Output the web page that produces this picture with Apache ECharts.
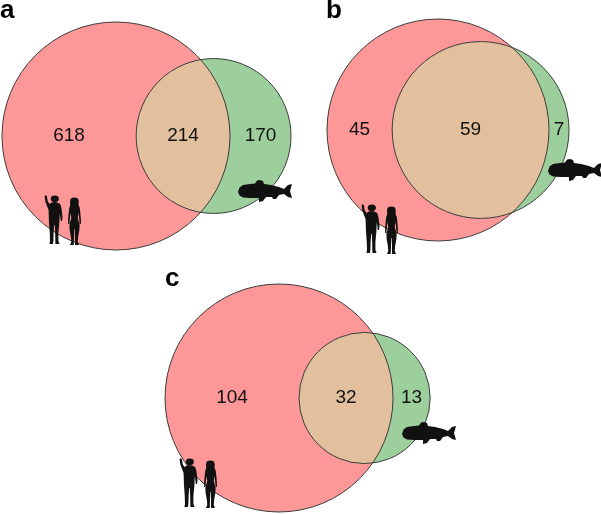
<!DOCTYPE html>
<html><head><meta charset="utf-8">
<script src="https://cdn.jsdelivr.net/npm/echarts@6/dist/echarts.min.js"></script>
<style>html,body{margin:0;padding:0;background:#fff}#c{width:601px;height:514px}</style>
</head><body><div id="c"></div>
<script>
// ---- data ----
const panels = ['a', 'b', 'c'];
const humanOnly = [618, 45, 104];
const shared = [214, 59, 32];
const fishOnly = [170, 7, 13];

// ---- layout (panel anchor: centre of the larger circle, its radius, letter position, icon positions) ----
const layout = [
  { cx: 116, cy: 136, R: 114, lx: 0, ly: 24, man: [44, 195], woman: [64, 197], fish: [238, 180] },
  { cx: 438, cy: 130, R: 111, lx: 326, ly: 24, man: [361, 204], woman: [381, 206], fish: [548, 159] },
  { cx: 279, cy: 398, R: 114, lx: 165, ly: 292, man: [179, 458], woman: [200, 460], fish: [402, 422] }
];

const COL_RED = '#fe9797', COL_GREEN = '#9dcf9c', COL_MIX = '#e2c09d', COL_LINE = '#3c3c3c';
const FONT = '"Liberation Sans", Arial, Helvetica, sans-serif';

// ---- silhouettes (decorative icons, local shapes) ----
const manPts = [[8.5,7],[11,7.5],[13.5,9],[14.5,13],[15.5,22],[15,26],[14,26],[13.2,18],[13,22],[12.8,28],[12,38],[12,46],[13,49],[9.5,49],[9.3,38],[9,30],[8.5,30],[8,38],[7.8,46],[7.5,49],[4.5,49],[5,46],[4.8,38],[4.2,28],[4,22],[3.8,15],[2.5,11],[1,6],[0.5,1.5],[1.5,0],[2.5,1.5],[3,6],[4.5,9],[6.5,7.5]];
const womanPts = [[8,7.5],[11,8.5],[12.5,10],[13,15],[13.5,22],[13.5,27],[12.5,27],[12,20],[11.5,16],[11,21],[12.5,28],[12.3,33],[11.3,40],[11,45],[12,48],[8.8,48],[8.8,40],[8.6,32],[8.2,32],[8,40],[7.8,48],[4.8,48],[5.8,45],[5.5,40],[4.5,33],[4.3,28],[5.8,21],[5.3,16],[4.8,20],[4.3,27],[3.3,27],[3.3,22],[3.8,15],[4.3,10],[5.5,8.5]];
const fishPts = [[0,12],[1.5,7.5],[5,5],[12,4],[17,3.5],[19,0.5],[22,0],[25,1],[26,4],[33,5],[41,7],[46,9],[50,5],[54,4],[52,11],[54,18],[50,17],[46,14],[41,15],[38,19],[35,19],[34,17],[28,17],[25,21],[21,22],[21,18],[12,18],[5,17.5],[1.5,15.5]];

function lensArea(r1, r2, d) {
  if (d >= r1 + r2) return 0;
  if (d <= Math.abs(r1 - r2)) return Math.PI * Math.min(r1, r2) ** 2;
  const a = (d * d + r1 * r1 - r2 * r2) / (2 * d), b = d - a;
  return r1 * r1 * Math.acos(a / r1) - a * Math.sqrt(r1 * r1 - a * a) +
         r2 * r2 * Math.acos(b / r2) - b * Math.sqrt(r2 * r2 - b * b);
}
function solveD(r1, r2, target) {
  let lo = Math.abs(r1 - r2), hi = r1 + r2;
  for (let k = 0; k < 80; k++) {
    const m = (lo + hi) / 2;
    if (lensArea(r1, r2, m) > target) lo = m; else hi = m;
  }
  return (lo + hi) / 2;
}

function icons(L) {
  return [
    { type: 'group', x: L.man[0], y: L.man[1], scaleX: 1.2, children: [
      { type: 'circle', shape: { cx: 9, cy: 3.8, r: 3.4 }, style: { fill: '#111' } },
      { type: 'polygon', shape: { points: manPts }, style: { fill: '#111' } }
    ]},
    { type: 'group', x: L.woman[0], y: L.woman[1], scaleX: 1.25, children: [
      { type: 'circle', shape: { cx: 8.3, cy: 4, r: 3.4 }, style: { fill: '#111' } },
      { type: 'polygon', shape: { points: [[5,4],[11.6,4],[11.8,10],[4.8,10]] }, style: { fill: '#111' } },
      { type: 'polygon', shape: { points: womanPts }, style: { fill: '#111' } }
    ]},
    { type: 'group', x: L.fish[0], y: L.fish[1], children: [
      { type: 'polygon', shape: { points: fishPts }, style: { fill: '#111' } }
    ]}
  ];
}

function renderItem(params, api) {
  const i = params.dataIndex;
  const h = api.value(0), s = api.value(1), f = api.value(2);
  const L = layout[i];
  const r1 = L.R, r2 = r1 * Math.sqrt((f + s) / (h + s));
  const target = Math.PI * r1 * r1 * s / (h + s);
  const d = solveD(r1, r2, target);
  const x1 = L.cx, y = L.cy, x2 = x1 + d;
  const a = (d * d + r1 * r1 - r2 * r2) / (2 * d);
  const hh = Math.sqrt(Math.max(0, r1 * r1 - a * a));
  const beta = Math.atan2(hh, d - a), gamma = Math.atan2(hh, a);
  const pts = [];
  const N = 120;
  for (let k = 0; k <= N; k++) {
    const t = (Math.PI + beta) + (-2 * beta) * k / N;
    pts.push([x2 + r2 * Math.cos(t), y + r2 * Math.sin(t)]);
  }
  for (let k = 0; k <= N; k++) {
    const t = gamma + (-2 * gamma) * k / N;
    pts.push([x1 + r1 * Math.cos(t), y + r1 * Math.sin(t)]);
  }
  const lx1 = ((x1 - r1) + (x2 - r2)) / 2;
  const lx2 = ((x2 - r2) + (x1 + r1)) / 2;
  const lx3 = ((x1 + r1) + (x2 + r2)) / 2;
  const txt = (t, x) => ({ type: 'text', style: { text: String(t), x: x, y: y, fill: '#111', fontSize: 19, fontFamily: FONT, align: 'center', verticalAlign: 'middle' } });
  return {
    type: 'group',
    children: [
      { type: 'circle', shape: { cx: x1, cy: y, r: r1 }, style: { fill: COL_RED } },
      { type: 'circle', shape: { cx: x2, cy: y, r: r2 }, style: { fill: COL_GREEN } },
      { type: 'polygon', shape: { points: pts }, style: { fill: COL_MIX } },
      { type: 'circle', shape: { cx: x1, cy: y, r: r1 }, style: { fill: 'none', stroke: COL_LINE, lineWidth: 1 } },
      { type: 'circle', shape: { cx: x2, cy: y, r: r2 }, style: { fill: 'none', stroke: COL_LINE, lineWidth: 1 } },
      txt(h, lx1), txt(s, lx2), txt(f, lx3),
      { type: 'text', style: { text: panels[i], x: L.lx, y: L.ly, fill: '#000', fontSize: 26, fontWeight: 'bold', fontFamily: FONT, align: 'left', verticalAlign: 'bottom' } }
    ].concat(icons(L))
  };
}

const chart = echarts.init(document.getElementById('c'), null, { renderer: 'canvas' });
chart.setOption({
  animation: false,
  backgroundColor: '#fff',
  series: [{
    type: 'custom',
    coordinateSystem: 'none',
    silent: true,
    renderItem: renderItem,
    data: panels.map((p, i) => [humanOnly[i], shared[i], fishOnly[i]])
  }]
});
</script>
</body></html>
